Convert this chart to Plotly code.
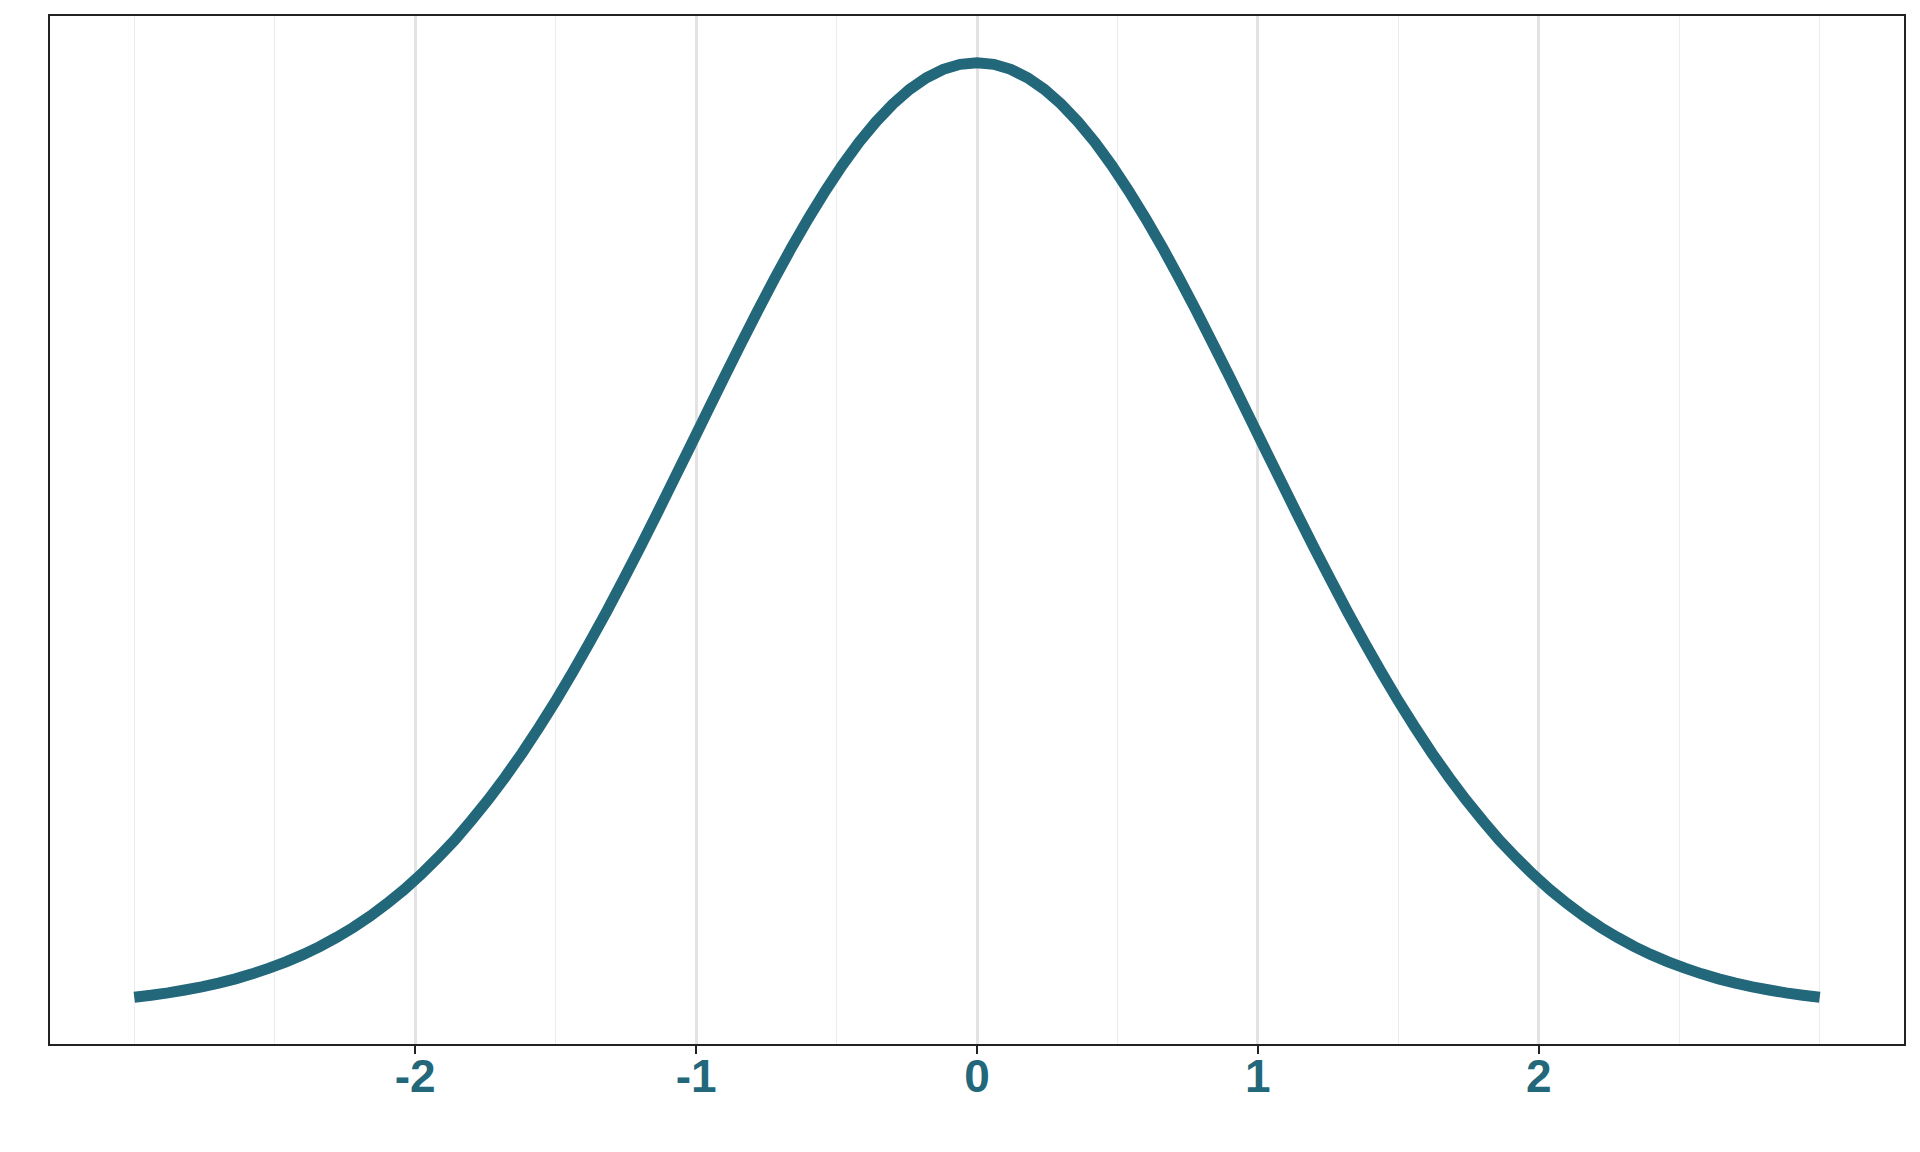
import plotly.graph_objects as go

# sample points of the curve (x) and the density (y)
x_vals = [
    -3.00, -2.94, -2.88, -2.82, -2.76, -2.70, -2.64, -2.58, -2.52, -2.46,
    -2.40, -2.34, -2.28, -2.22, -2.16, -2.10, -2.04, -1.98, -1.92, -1.86,
    -1.80, -1.74, -1.68, -1.62, -1.56, -1.50, -1.44, -1.38, -1.32, -1.26,
    -1.20, -1.14, -1.08, -1.02, -0.96, -0.90, -0.84, -0.78, -0.72, -0.66,
    -0.60, -0.54, -0.48, -0.42, -0.36, -0.30, -0.24, -0.18, -0.12, -0.06,
    0.00,
    0.06, 0.12, 0.18, 0.24, 0.30, 0.36, 0.42, 0.48, 0.54, 0.60,
    0.66, 0.72, 0.78, 0.84, 0.90, 0.96, 1.02, 1.08, 1.14, 1.20,
    1.26, 1.32, 1.38, 1.44, 1.50, 1.56, 1.62, 1.68, 1.74, 1.80,
    1.86, 1.92, 1.98, 2.04, 2.10, 2.16, 2.22, 2.28, 2.34, 2.40,
    2.46, 2.52, 2.58, 2.64, 2.70, 2.76, 2.82, 2.88, 2.94, 3.00,
]
y_vals = [
    0.0044, 0.0053, 0.0063, 0.0075, 0.0088, 0.0104, 0.0122, 0.0143, 0.0167, 0.0194,
    0.0224, 0.0258, 0.0297, 0.0339, 0.0387, 0.0440, 0.0498, 0.0562, 0.0632, 0.0707,
    0.0790, 0.0878, 0.0973, 0.1074, 0.1182, 0.1295, 0.1415, 0.1540, 0.1669, 0.1804,
    0.1942, 0.2083, 0.2227, 0.2371, 0.2516, 0.2661, 0.2803, 0.2943, 0.3079, 0.3209,
    0.3332, 0.3448, 0.3555, 0.3653, 0.3739, 0.3814, 0.3876, 0.3925, 0.3961, 0.3982,
    0.3989,
    0.3982, 0.3961, 0.3925, 0.3876, 0.3814, 0.3739, 0.3653, 0.3555, 0.3448, 0.3332,
    0.3209, 0.3079, 0.2943, 0.2803, 0.2661, 0.2516, 0.2371, 0.2227, 0.2083, 0.1942,
    0.1804, 0.1669, 0.1540, 0.1415, 0.1295, 0.1182, 0.1074, 0.0973, 0.0878, 0.0790,
    0.0707, 0.0632, 0.0562, 0.0498, 0.0440, 0.0387, 0.0339, 0.0297, 0.0258, 0.0224,
    0.0194, 0.0167, 0.0143, 0.0122, 0.0104, 0.0088, 0.0075, 0.0063, 0.0053, 0.0044,
]
tick_vals = [-2, -1, 0, 1, 2]
tick_text = ["-2", "-1", "0", "1", "2"]

teal = "#22677A"

fig = go.Figure()
fig.add_trace(go.Scatter(
    x=x_vals, y=y_vals,
    mode="lines",
    line=dict(color=teal, width=11, simplify=False),
    showlegend=False,
))

# page body adds ~8px offset, margins compensate for it
fig.update_layout(
    width=1920, height=1152,
    margin=dict(l=42, r=24, t=6, b=116),
    plot_bgcolor="white",
    paper_bgcolor="white",
)
fig.update_xaxes(
    range=[-3.3, 3.3],
    tickvals=tick_vals, ticktext=tick_text,
    ticks="outside", ticklen=8, tickwidth=2, tickcolor="#222222",
    tickfont=dict(family="Liberation Sans", size=46, color=teal, weight="bold"),
    ticklabelstandoff=-17,
    showgrid=True, gridcolor="#e3e3e3", gridwidth=2.5,
    minor=dict(tickvals=[-3, -2.5, -1.5, -0.5, 0.5, 1.5, 2.5, 3],
               showgrid=True, gridcolor="#ececec", gridwidth=1.3, ticks=""),
    showline=True, linecolor="#222222", linewidth=1.5, mirror=True,
    zeroline=False,
)
fig.update_yaxes(
    range=[-0.0153, 0.4186],
    showticklabels=False, ticks="",
    showgrid=False, zeroline=False,
    showline=True, linecolor="#222222", linewidth=1.5, mirror=True,
)

fig.write_html("out.html")
